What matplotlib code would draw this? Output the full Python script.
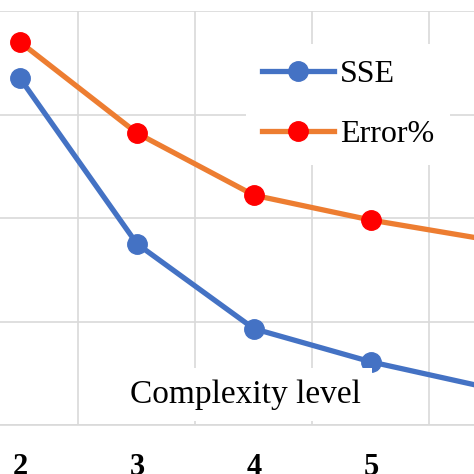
import numpy as np
import matplotlib.pyplot as plt

plt.rcParams['font.family'] = ['Liberation Serif', 'DejaVu Serif']

levels = [2, 3, 4, 5, 6]
sse = [3.35, 1.75, 0.93, 0.61, 0.36]
error_pct = [3.70, 2.82, 2.22, 1.98, 1.79]
tick_labels = ['2', '3', '4', '5', '6']

fig = plt.figure(figsize=(4.74, 4.74), dpi=100)
ax = fig.add_axes([0, 49 / 474, 1, 414 / 474])

ax.plot(levels, sse, color='#4472C4', lw=3.8, marker='o', ms=14,
        mfc='#4472C4', mec='#4472C4', label='SSE', zorder=3)
ax.plot(levels, error_pct, color='#ED7D31', lw=3.8, marker='o', ms=14,
        mfc='#FF0000', mec='#FF0000', label='Error%', zorder=3)

ax.set_xticks(levels)
ax.set_xticklabels(tick_labels, fontsize=22, fontweight='bold')
ax.set_xticks(np.arange(1.5, 6.6, 1), minor=True)
ax.set_yticks([0, 1, 2, 3, 4])
# limits after the ticks, set_xticks widens the view otherwise
ax.set_xlim(2 - 20 / 117, 2 + 454 / 117)
ax.set_ylim(0, 4)
ax.tick_params(axis='x', which='both', length=0, pad=20)
ax.tick_params(axis='y', left=False, labelleft=False)
ax.grid(True, which='minor', axis='x', color='#D9D9D9', lw=1.2)
ax.grid(True, which='major', axis='y', color='#D9D9D9', lw=1.2)
ax.set_axisbelow(True)
for s in ['top', 'right', 'left']:
    ax.spines[s].set_visible(False)
ax.spines['bottom'].set_color('#D9D9D9')
ax.spines['bottom'].set_linewidth(1.2)

ax.text(0.518, 0.150, 'Complexity level', transform=fig.transFigure,
        ha='center', va='baseline', fontsize=24, zorder=5,
        bbox=dict(facecolor='white', edgecolor='none', pad=8))

leg = ax.legend(loc='upper left', bbox_to_anchor=(230 / 474, 1 - 28 / 474),
                bbox_transform=fig.transFigure, fontsize=23, frameon=True,
                facecolor='white', edgecolor='none', framealpha=1,
                handlelength=2.25, handletextpad=0.2, labelspacing=0.95,
                borderpad=0.5, fancybox=False)
leg.set_zorder(6)

fig.savefig('out.png', dpi=100)
